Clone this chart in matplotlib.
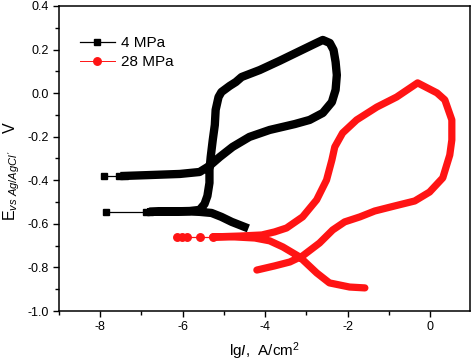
import matplotlib
matplotlib.use('Agg')
import matplotlib.pyplot as plt
from matplotlib.ticker import MultipleLocator, FormatStrFormatter, FuncFormatter
from matplotlib.lines import Line2D

plt.rcParams['font.family'] = ['Liberation Sans', 'DejaVu Sans']
plt.rcParams['mathtext.fontset'] = 'custom'
plt.rcParams['mathtext.rm'] = 'Liberation Sans'
plt.rcParams['mathtext.it'] = 'Liberation Sans:italic'

# ---- data (lg I, E) ----
# 4 MPa: dense scan curve
b4_x = [-4.50, -4.81, -5.06, -5.30, -5.59, -5.83, -6.32, -6.80,
        -6.32, -5.83, -5.59, -5.47, -5.40, -5.35, -5.35, -5.32, -5.27, -5.22, -5.20,
        -5.13, -5.06, -4.86, -4.71, -4.57, -4.13, -3.65, -3.16, -2.80, -2.60, -2.43,
        -2.34, -2.29, -2.26, -2.29, -2.38, -2.60, -2.92, -3.28, -3.89, -4.38, -4.79,
        -5.10, -5.35, -5.59, -6.07, -6.80, -7.41]
b4_y = [-0.614, -0.591, -0.568, -0.550, -0.545, -0.543, -0.543, -0.545,
        -0.543, -0.541, -0.536, -0.509, -0.472, -0.412, -0.353, -0.293, -0.215, -0.146, -0.077,
        -0.018, 0.005, 0.033, 0.051, 0.074, 0.106, 0.148, 0.193, 0.226, 0.244, 0.230,
        0.198, 0.143, 0.083, 0.015, -0.041, -0.091, -0.123, -0.142, -0.169, -0.201, -0.247,
        -0.293, -0.334, -0.362, -0.371, -0.376, -0.380]
# 4 MPa: sparse low-current points
b4_tail1_x = [-6.80, -6.90, -7.85]
b4_tail1_y = [-0.545, -0.545, -0.545]
b4_tail2_x = [-7.41, -7.55, -7.92]
b4_tail2_y = [-0.380, -0.380, -0.380]

# 28 MPa: dense scan curve
r28_x = [-1.58, -1.95, -2.44, -2.75, -3.16, -3.57, -3.89, -4.25, -4.74, -5.27,
         -4.62, -4.08, -3.77, -3.48, -3.09, -2.75, -2.51, -2.38, -2.31, -2.12,
         -1.78, -1.29, -0.81, -0.30, 0.17, 0.36, 0.53, 0.53, 0.48, 0.31,
         -0.01, -0.37, -0.86, -1.34, -1.70, -2.07, -2.36, -2.68, -3.09, -3.40,
         -3.77, -4.20]
r28_y = [-0.894, -0.890, -0.871, -0.825, -0.752, -0.706, -0.678, -0.665, -0.660, -0.660,
         -0.656, -0.651, -0.637, -0.619, -0.568, -0.490, -0.399, -0.307, -0.247, -0.183,
         -0.123, -0.064, -0.018, 0.047, 0.001, -0.031, -0.123, -0.215, -0.284, -0.389,
         -0.454, -0.495, -0.518, -0.541, -0.568, -0.591, -0.628, -0.688, -0.747, -0.775,
         -0.793, -0.812]
# 28 MPa: sparse low-current points
r28_tail_x = [-5.27, -5.59, -5.90, -6.02, -6.14]
r28_tail_y = [-0.660, -0.660, -0.660, -0.660, -0.660]

labels = ['4 MPa', '28 MPa']

fig = plt.figure(figsize=(4.74, 3.64), dpi=100)
ax = fig.add_axes([0.1245, 0.1456, 0.867, 0.838])

blk = 'black'
red = '#ff1414'

ax.plot(b4_x, b4_y, color=blk, lw=6.0, solid_capstyle='projecting', solid_joinstyle='round')
ax.plot(b4_tail1_x, b4_tail1_y, color=blk, lw=0.9, marker='s', ms=4.8)
ax.plot(b4_tail2_x, b4_tail2_y, color=blk, lw=0.9, marker='s', ms=4.8)

ax.plot(r28_x, r28_y, color=red, lw=5.2, solid_capstyle='round', solid_joinstyle='round')
ax.plot(r28_tail_x, r28_tail_y, color=red, lw=0.9, marker='o', ms=5.4)

ax.set_xlim(-9, 0.97)
ax.set_ylim(-1.0, 0.4)
ax.xaxis.set_major_locator(MultipleLocator(2))
ax.xaxis.set_minor_locator(MultipleLocator(1))
ax.yaxis.set_major_locator(MultipleLocator(0.2))
ax.yaxis.set_minor_locator(MultipleLocator(0.1))
ax.yaxis.set_major_formatter(FormatStrFormatter('%.1f'))
ax.xaxis.set_major_formatter(FuncFormatter(lambda v, p: f'{int(round(v))}'))
ax.tick_params(which='both', direction='out', top=False, right=False, labelsize=9, width=1.0)
ax.tick_params(which='major', length=4.5, pad=3)
ax.tick_params(which='minor', length=3)
for s in ax.spines.values():
    s.set_linewidth(1.1)

ax.set_xlabel(r'lg$\it{I}$,  A/cm$^{2}$', fontsize=11)
ax.xaxis.set_label_coords(0.501, -0.098)
ax.set_ylabel(r"E$_{\it{vs\ Ag/AgCl'}}$    V", fontsize=11.5)
ax.yaxis.set_label_coords(-0.09, 0.46)

handles = [Line2D([], [], color=blk, lw=0.9, marker='s', ms=4.8),
           Line2D([], [], color=red, lw=0.7, marker='o', ms=5.4)]
ax.legend(handles, labels, loc='upper left', bbox_to_anchor=(0.05, 0.9), frameon=False,
          fontsize=11, handlelength=2.3, handletextpad=0.4, labelspacing=0.3, borderpad=0,
          borderaxespad=0)

fig.savefig('out.png', dpi=100)
